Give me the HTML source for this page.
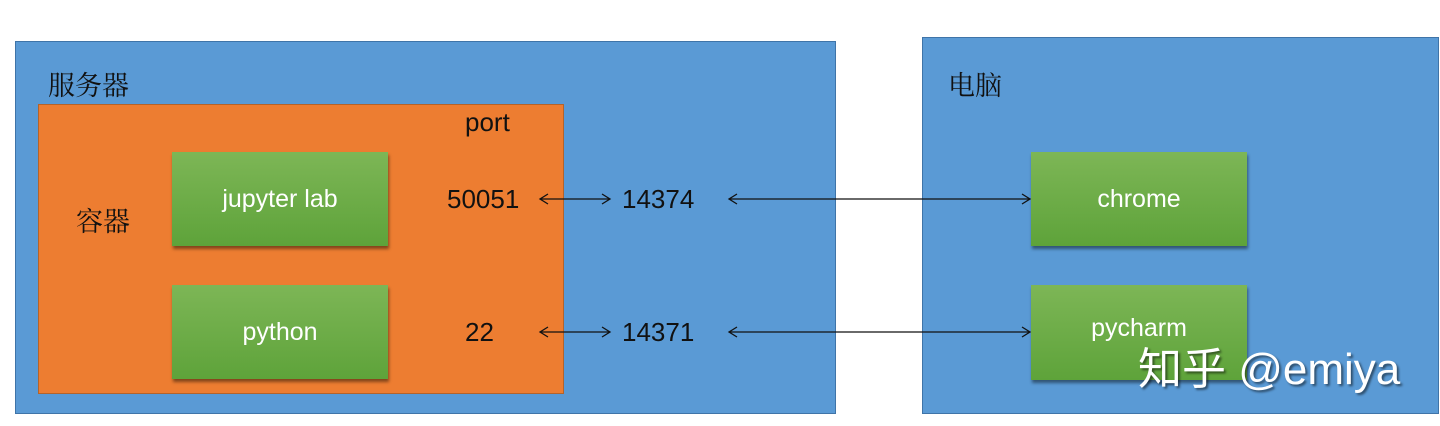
<!DOCTYPE html>
<html><head><meta charset="utf-8"><style>
body{margin:0;width:1440px;height:426px;background:#fff;position:relative;overflow:hidden;font-family:"Liberation Sans","Noto Sans CJK SC",sans-serif}
.b{position:absolute;box-sizing:border-box}
.blue{background:#5a9ad5;border:1px solid #3f74a8}
.or{background:#ed7d31;border:1px solid #b4632a}
.g{background:linear-gradient(#7db656,#5ea33a);color:#fff;font-size:25px;display:flex;align-items:center;justify-content:center;box-shadow:1px 3px 3px rgba(0,0,0,.45)}
.t{position:absolute;font-size:26px;color:#111;white-space:nowrap}
.cj{font-family:"Noto Serif CJK SC","Noto Sans CJK SC",serif;font-size:27px}
</style></head><body>
<div class="b blue" style="left:15px;top:41px;width:821px;height:373px"></div>
<div class="b blue" style="left:922px;top:37px;width:517px;height:377px"></div>
<div class="b or" style="left:38px;top:104px;width:526px;height:290px"></div>
<div class="b g" style="left:172px;top:152px;width:216px;height:94px">jupyter lab</div>
<div class="b g" style="left:172px;top:285px;width:216px;height:94px">python</div>
<div class="b g" style="left:1031px;top:152px;width:216px;height:94px">chrome</div>
<div class="b g" style="left:1031px;top:285px;width:216px;height:95px;padding-bottom:8px">pycharm</div>
<div class="t cj" style="left:48px;top:64px">服务器</div>
<div class="t cj" style="left:76px;top:200px">容器</div>
<div class="t cj" style="left:948px;top:64px">电脑</div>
<div class="t" style="left:465px;top:107px">port</div>
<div class="t" style="left:447px;top:184px">50051</div>
<div class="t" style="left:465px;top:317px">22</div>
<div class="t" style="left:622px;top:184px">14374</div>
<div class="t" style="left:622px;top:317px">14371</div>
<svg style="position:absolute;left:0;top:0" width="1440" height="426">
<g stroke="#111" stroke-width="1.3" fill="none">
<path d="M540 199H610M548 194l-8 5 8 5M602 194l8 5-8 5"/>
<path d="M729 199H1030M737 194l-8 5 8 5M1022 194l8 5-8 5"/>
<path d="M540 332H610M548 327l-8 5 8 5M602 327l8 5-8 5"/>
<path d="M729 332H1030M737 327l-8 5 8 5M1022 327l8 5-8 5"/>
</g></svg>
<div class="t" style="left:1138px;top:333px;font-size:44px;color:#fff;text-shadow:2px 2px 2px rgba(0,0,0,.5);font-family:'Liberation Sans','Noto Sans CJK SC',sans-serif">知乎 @emiya</div>
</body></html>
